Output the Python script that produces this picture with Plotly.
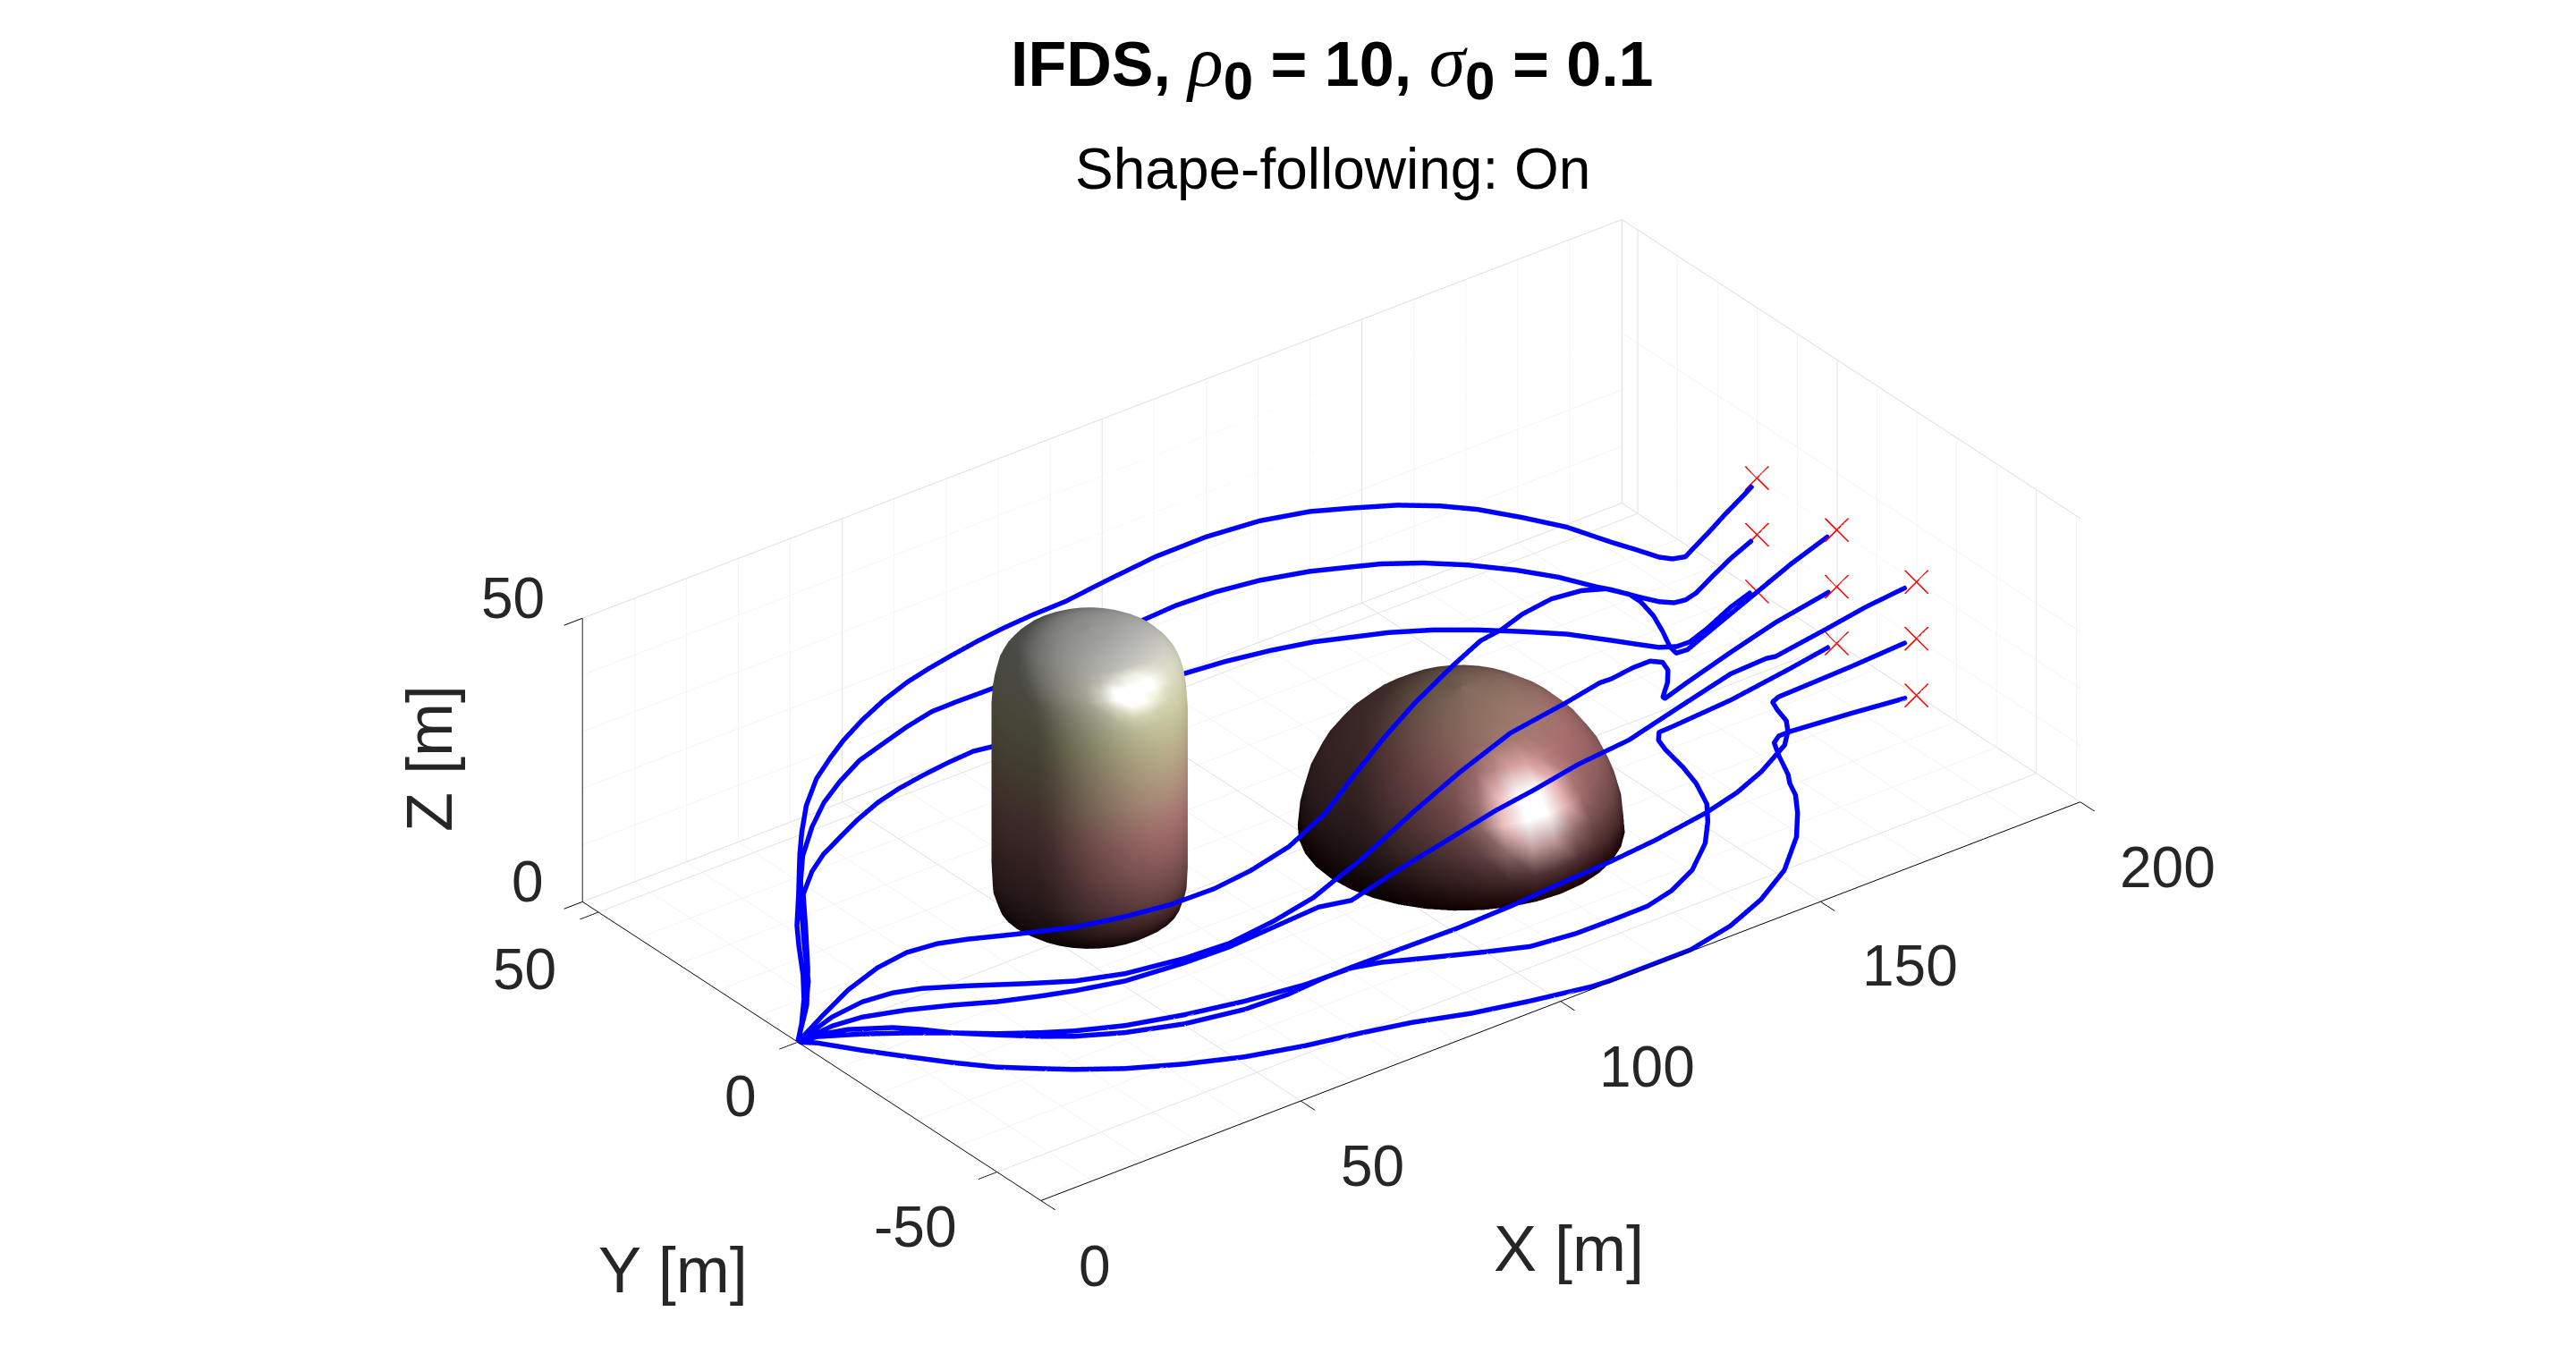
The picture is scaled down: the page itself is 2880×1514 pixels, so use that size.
import numpy as np
import plotly.graph_objects as go

W, H = 2880, 1514

x_ticks = [0, 50, 100, 150, 200]
y_ticks = [-50, 0, 50]
z_ticks = [0, 50]
x_minor = [10, 20, 30, 40, 60, 70, 80, 90, 110, 120, 130, 140, 160, 170, 180, 190]
y_minor = [-60, -40, -30, -20, -10, 10, 20, 30, 40]
z_minor = [10, 20, 30, 40]
x_lim = [0, 200]
y_lim = [-61, 54]
z_lim = [0, 50]

goal_x = [200, 200, 200, 200, 200, 200, 200, 200, 200]
goal_y = [20, 20, 20, 0, 0, 0, -20, -20, -20]
goal_z = [20, 10, 0, 20, 10, 0, 20, 10, 0]

# radius / height profiles of the two obstacles
capsule_center = [60, 5]
capsule_r = [0, 12, 14, 14.8, 15, 15, 15, 15, 15, 15, 14.8, 14.5, 14, 13.4, 12.5, 11.4, 10, 8.2, 6, 3, 0]
capsule_z = [0, 0, 1.5, 4, 8, 14, 20, 26, 31, 36, 39, 41, 43, 44.3, 45.5, 46.6, 47.5, 48.3, 49, 49.4, 49.5]
dome_center = [120, -10]
dome_r = [25, 24.6, 23.5, 21.7, 19.2, 16, 12.5, 8.5, 4.3, 0]
dome_z = [0, 4.3, 8.5, 12.5, 16, 19.2, 21.7, 23.5, 24.6, 25]

# flight paths
p1_x = [0, 2.9, 4.5, 5.7, 7.5, 7.9, 9.6, 10.8, 11.9, 14.2, 17.6, 21.7, 26.2, 30.1, 35.1, 40.3, 45.4, 50, 54.8, 59.7, 64.9, 71, 77.5, 85.3, 95.6, 105.4, 114.9, 122.7, 128.5, 135, 140.5, 145.5, 150.5, 156.2, 162, 166.7, 171.3, 174.7, 177.7, 181.2, 186.1, 190.6, 195.1, 197.8]
p1_y = [0, 2.8, 4.3, 6.1, 9.5, 10.5, 12.3, 13.7, 15, 17.5, 20.8, 23.6, 26, 27.7, 29.5, 30.9, 31.7, 32.3, 32.7, 33, 33.1, 33.6, 33.8, 34.3, 34.9, 35, 33.9, 31.5, 28.4, 25.6, 22.2, 19.2, 14.4, 10.7, 6.9, 7.1, 7.2, 8.3, 9, 11.2, 13.7, 15.7, 17.5, 18.5]
p1_z = [0, 1, 4, 7, 10, 13, 17, 20, 22, 24, 26, 28, 29, 30, 31, 32, 33, 33.5, 34, 34.5, 35, 35, 35, 35.5, 36, 36, 36, 36, 36, 35.5, 35, 34, 33, 31, 28, 25, 22, 20, 19, 18.5, 18.5, 19, 19.5, 20]

p2_x = [0, 5.7, 9.4, 12.4, 16.6, 19.9, 22.5, 27, 30.8, 34.4, 39.8, 45, 49.7, 54.5, 59, 63.2, 65.7, 80.2, 94.2, 100.6, 107.9, 115.4, 123.2, 129.1, 133.2, 139, 144.6, 150.5, 155.9, 160.8, 163.7, 168.8, 172.5, 175.7, 178.7, 181.8, 187, 192.5, 198.2]
p2_y = [0, 5.5, 9.6, 14.5, 20.7, 25.2, 28.1, 31.6, 33.6, 34.4, 36.4, 37, 37.4, 37.4, 36.8, 36, 35.3, 36.7, 36.5, 36.3, 35.9, 34.6, 32.1, 29.3, 27.3, 24.3, 20.3, 16, 12.4, 9.3, 9.2, 9.1, 8.8, 9.2, 10.2, 11.6, 14.2, 16.8, 19.1]
p2_z = [0, 1, 3, 6, 8, 10, 12, 14, 16, 18, 19, 20, 21, 22, 22.5, 23, 23.5, 24, 24.5, 25, 25, 25, 25, 25, 25, 24.5, 24, 23, 21.5, 19.5, 18, 15, 13, 11.5, 10.5, 10, 10, 10, 10]

p3_x = [0, 7.4, 12.6, 18, 22.3, 26.6, 30.1, 34, 38.4, 43.2, 47.7, 52, 56.7, 61.1, 64.1, 81.1, 99.1, 106.6, 114.4, 121.1, 127.1, 132.9, 139.8, 146.3, 152.5, 159, 165.4, 169.7, 174, 177.9, 181.4, 186.5, 193.6, 199]
p3_y = [0, 7.4, 13.9, 21.5, 27.7, 31.1, 32.8, 33.9, 35.2, 36.2, 36.9, 36.5, 35.9, 35.6, 34.2, 32.8, 32.8, 31.9, 30.3, 28.4, 26.7, 25.1, 23, 20.2, 17, 14.3, 11.3, 11, 10.8, 11.4, 12.7, 15, 18.3, 20.4]
p3_z = [0, 0.5, 2, 4, 5.5, 6.5, 7.5, 8.5, 9.5, 10.5, 11, 12, 13, 13.5, 14, 15, 15, 15, 15, 15, 14.5, 14, 13, 12, 11, 9.5, 7.5, 5.5, 3.5, 2, 1, 0.5, 0.3, 0]

p4_x = [0, 7.2, 13.1, 19.8, 25.6, 30.5, 34.4, 39.6, 46.4, 54.5, 61.7, 69.5, 76.7, 84.8, 93.2, 99.1, 104.7, 111.3, 121, 128.3, 132.5, 137.3, 143.1, 148.3, 151.9, 155, 156, 157.6, 158.4, 158.6, 158.7, 160.7, 164.2, 172.1, 180.3, 188.2, 197.7]
p4_y = [0, 2.9, 4.5, 5.8, 6.1, 4.7, 2.3, -2.1, -8.9, -11, -13, -13.9, -13.6, -12.7, -10.8, -10.4, -10.8, -9.6, -6.7, -4, -3.9, -2.8, -2.5, -3.3, -4.7, -6.6, -8.2, -9.2, -10.5, -12, -13.5, -13.7, -12.5, -9.7, -6.7, -3.7, -0.7]
p4_z = [0, 1, 2.5, 3.5, 4, 4.5, 5, 6, 8, 8, 8.5, 9, 9.5, 10.5, 12.5, 17, 22, 25, 27, 27.5, 28, 28.5, 29, 29, 28.7, 27.5, 26.5, 24, 21.5, 19.5, 19, 19, 19.2, 19.5, 19.7, 19.8, 20]

p5_x = [0, 8.3, 13.7, 18.3, 22.1, 27.6, 34.4, 39.6, 47.1, 56.6, 64.3, 72.9, 80.9, 85.5, 91, 101.9, 108.2, 117.4, 126.3, 132.3, 134, 138, 141.9, 144.8, 148.2, 151.1, 154.2, 155.2, 161.6, 173.5, 184.9, 198.1]
p5_y = [0, 2.2, 1.7, 0.1, -2.4, -6.5, -12.6, -17.8, -20.7, -23.2, -24.4, -24.5, -23.9, -23.1, -22.6, -21.9, -25, -25.7, -27.7, -28.7, -29.5, -29.5, -28.8, -28.2, -25.1, -21.2, -16, -15.2, -12.1, -8, -4.3, -0.5]
p5_z = [0, 0.5, 1.5, 2.2, 2.8, 3.2, 4, 5, 5, 5.5, 6, 7, 8, 9, 10.5, 15, 21, 25, 28, 30, 30.5, 31, 30.5, 29, 25, 20, 14, 13, 12, 11.5, 11, 10]

p6_x = [0, 6.9, 11.4, 17.1, 22.7, 28.2, 34.1, 38.9, 46.3, 56.3, 64.1, 72.8, 80.8, 85, 92.8, 100.1, 108.5, 113.8, 120.9, 130.5, 133.4, 143.6, 154.6, 162.3, 164.3, 177.7, 188, 197.6]
p6_y = [0, 0.3, -1.3, -5.1, -9.1, -13.1, -16.5, -18.8, -21.8, -23.6, -24.6, -24.6, -25.3, -28.1, -29.3, -31, -33.5, -36.2, -38.2, -38.4, -37.6, -35.4, -32.5, -31.4, -31.1, -26.4, -22.7, -20.3]
p6_z = [0, 0.3, 1, 2, 2.7, 3.2, 3.7, 4, 4.5, 5, 5.5, 6, 7, 8, 11, 14, 18, 21, 24, 25, 25, 25.5, 25.5, 25, 24.5, 22.5, 21, 20]

p7_x = [0, 3.4, 9.3, 14.9, 20.4, 25.6, 31.2, 35.6, 42.7, 51.9, 61.7, 72, 80.9, 85.5, 91.7, 100.2, 106.5, 114.4, 121.6, 127.7, 132.9, 138.2, 143.7, 147.5, 150.7, 152.7, 154.1, 155.8, 157.2, 159.3, 162.3, 175.6, 189.1, 198.3]
p7_y = [0, -0.5, -4, -7.9, -12.1, -16.4, -20.3, -23, -26.4, -29.3, -31.6, -33.2, -33.5, -34.9, -38, -42.1, -44.9, -46, -46.1, -46.7, -45.9, -44.2, -40.3, -36, -31.6, -26.3, -21.2, -14.5, -11, -8.4, -7.6, -5.2, -2.4, -0.1]
p7_z = [0, 0, 0, 0, 0, 0, 0, 0, 0, 0, 0, 0, 0, 0, 0, 0, 0, 0, 0, 0.5, 1, 2, 3, 3.5, 3.5, 4, 4, 3.5, 3, 2.5, 2, 1, 0.5, 0]

p8_x = [0, 3.7, 8.4, 14.2, 17.4, 20.4, 25.4, 30.5, 34.6, 41.4, 50.2, 60.2, 68.4, 75.3, 81, 92.5, 100.9, 110.5, 119.2, 126.7, 135.2, 144.4, 151.2, 157.5, 162.2, 164.2, 166.6, 167.9, 168.8, 169.7, 171.4, 175.2, 186.3, 197.9]
p8_y = [0, -0.1, -1.6, -5.3, -8.5, -12.1, -16.7, -21.2, -24.3, -28.1, -31.5, -33.6, -34, -33.4, -33.3, -33.5, -33.7, -34.7, -35.9, -37.4, -39, -39.8, -38.5, -36.4, -34.2, -33.5, -31.2, -29.1, -25.7, -23.3, -22.6, -22.2, -21.2, -19.9]
p8_z = [0, 0, 0, 0, 0, 0, 0, 0, 0, 0, 0, 0, 0, 0, 0, 0, 0, 1, 2.5, 4, 6, 8, 8.5, 9, 9.5, 10, 10.5, 11, 11, 11, 11, 10.8, 10.4, 10]

p9_x = [0, 2.2, 6.3, 10.5, 14.9, 19.4, 24.5, 28.4, 34.7, 42.7, 51.4, 60.7, 69.8, 78, 86.9, 96.4, 106.4, 109.7, 116.9, 125.3, 132.9, 140, 146.2, 152.3, 155.8, 159.4, 160.9, 163.4, 166.7, 169.7, 172.6, 175.4, 187.6, 198.2]
p9_y = [0, -2, -8, -13.6, -19.3, -24.5, -29, -32.3, -36.8, -41.2, -45.1, -48, -50.1, -52.3, -55.6, -58.1, -60.3, -60.6, -60.6, -60.6, -60.6, -59.1, -56.9, -52, -47.7, -42.5, -39.1, -35.4, -28.9, -23.7, -21.1, -20.4, -19.6, -19.6]
p9_z = [0, 0, 0, 0, 0, 0, 0, 0, 0, 0, 0, 0, 0, 0, 0, 0, 0, 0, 0, 0, 1.5, 3, 5, 6.5, 7.5, 7, 7, 6, 5, 4, 3, 2.5, 1, 0]

paths = [(p1_x, p1_y, p1_z), (p2_x, p2_y, p2_z), (p3_x, p3_y, p3_z),
         (p4_x, p4_y, p4_z), (p5_x, p5_y, p5_z), (p6_x, p6_y, p6_z),
         (p7_x, p7_y, p7_z), (p8_x, p8_y, p8_z), (p9_x, p9_y, p9_z)]

# matlab pink colormap
pink_t = [0, 0.125, 0.25, 0.375, 0.5, 0.75, 1]
pink_r = [30, 110, 159, 195, 208, 233, 255]
pink_g = [0, 72, 104, 128, 170, 233, 255]
pink_b = [0, 72, 104, 128, 147, 180, 255]

GRID = '#dedede'
DOT = '#ececec'

# camera and light directions of view(-37.5, 30)
VIEW = np.array([-0.527, -0.687, 0.5])
LIGHT = np.array([0.367, -0.803, 0.475])
KA, KD, KS, SHINE = 0.3, 0.6, 1.0, 35


def solid(center, rad, zs, n=37):
    # lit by hand per vertex, like gouraud lighting in matlab
    t = np.linspace(0, 2 * np.pi, n)
    rad = np.array(rad, dtype=float)
    zs = np.array(zs, dtype=float)
    dr = np.gradient(rad)
    dz = np.gradient(zs)
    ln = np.hypot(dr, dz)
    nr, nz = dz / ln, -dr / ln
    sx = center[0] + np.outer(rad, np.cos(t))
    sy = center[1] + np.outer(rad, np.sin(t))
    sz = np.outer(zs, np.ones(n))
    nx = np.outer(nr, np.cos(t))
    ny = np.outer(nr, np.sin(t))
    nnz = np.outer(nz, np.ones(n))
    half = (VIEW + LIGHT) / np.linalg.norm(VIEW + LIGHT)
    diff = np.clip(nx * LIGHT[0] + ny * LIGHT[1] + nnz * LIGHT[2], 0, None)
    spec = np.clip(nx * half[0] + ny * half[1] + nnz * half[2], 0, None) ** SHINE
    cols = []
    for dd, ss, zz in zip(diff.ravel(), spec.ravel(), sz.ravel()):
        tv = zz / 50
        base = [np.interp(tv, pink_t, pink_r), np.interp(tv, pink_t, pink_g), np.interp(tv, pink_t, pink_b)]
        c = [min(255, b * (KA + KD * dd) + 255 * KS * ss) for b in base]
        cols.append('rgb(%d,%d,%d)' % tuple(c))
    nrow = len(rad)
    ii, jj, kk = [], [], []
    for a in range(nrow - 1):
        for b in range(n - 1):
            p = a * n + b
            ii += [p, p + 1]
            jj += [p + 1, p + n + 1]
            kk += [p + n, p + n]
    return go.Mesh3d(x=sx.ravel(), y=sy.ravel(), z=sz.ravel(), i=ii, j=jj, k=kk, vertexcolor=cols,
                     hoverinfo='skip', flatshading=False,
                     lighting=dict(ambient=1, diffuse=0, specular=0, roughness=1, fresnel=0))


def segs(pairs):
    xs, ys, zs = [], [], []
    for a, b in pairs:
        xs += [a[0], b[0], None]
        ys += [a[1], b[1], None]
        zs += [a[2], b[2], None]
    return xs, ys, zs


def shifted(xs, ys, zs, offs):
    # webgl lines stay 1px wide, so stack copies shifted a little on screen
    ox, oy, oz = [], [], []
    for hor, ver in offs:
        dx = 0.1086 * hor - (0.1665 * -ver if ver < 0 else 0)
        dy = -0.0829 * hor - (0.2167 * -ver if ver < 0 else 0)
        dz = 0.157 * ver if ver > 0 else 0
        for a, b, c in zip(xs, ys, zs):
            ox.append(None if a is None else a + dx)
            oy.append(None if b is None else b + dy)
            oz.append(None if c is None else c + dz)
        ox.append(None)
        oy.append(None)
        oz.append(None)
    return ox, oy, oz


y0, y1 = y_lim
z1 = z_lim[1]
x1 = x_lim[1]

# minor grid on the floor and the two back walls
minor = []
for v in x_minor:
    minor += [((v, y0, 0), (v, y1, 0)), ((v, y1, 0), (v, y1, z1))]
for v in y_minor:
    minor += [((0, v, 0), (x1, v, 0)), ((x1, v, 0), (x1, v, z1))]
for v in z_minor:
    minor += [((0, y1, v), (x1, y1, v)), ((x1, y1, v), (x1, y0, v))]

# box edges that are not on a tick
edges = [((0, y1, 0), (x1, y1, 0)), ((x1, y1, 0), (x1, y0, 0)),
         ((0, y1, z1), (x1, y1, z1)), ((x1, y1, z1), (x1, y0, z1))]

# red crosses, arms kept inside the box so they are not clipped at x=200 / z=0
arms = [((0, -2.91, 3.38), (-3.58, -1.74, 0)), ((0, 2.91, 0.71), (-0.75, -3.9, 0))]
goal_marks = []
for gx, gy, gz in zip(goal_x, goal_y, goal_z):
    for a, b in arms:
        goal_marks.append(((gx + a[0], gy + a[1], gz + a[2]), (gx, gy, gz)))
        goal_marks.append(((gx, gy, gz), (gx + b[0], gy + b[1], gz + b[2])))

fig = go.Figure()
mx, my, mz = segs(minor)
fig.add_trace(go.Scatter3d(x=mx, y=my, z=mz, mode='lines', line=dict(color=DOT, width=1), hoverinfo='skip'))
ex, ey, ez = segs(edges)
fig.add_trace(go.Scatter3d(x=ex, y=ey, z=ez, mode='lines', line=dict(color=GRID, width=2), hoverinfo='skip'))
fig.add_trace(solid(capsule_center, capsule_r, capsule_z))
fig.add_trace(solid(dome_center, dome_r, dome_z))
blue_offs = [(0, 0), (1.5, 0), (-1.5, 0), (0, 1.5), (0, -1.5), (1, 1), (1, -1), (-1, 1), (-1, -1)]
for px_, py_, pz_ in paths:
    bx, by, bz = shifted(px_, py_, pz_, blue_offs)
    fig.add_trace(go.Scatter3d(x=bx, y=by, z=bz, mode='lines', line=dict(color='rgb(0,0,255)', width=5), hoverinfo='skip'))
gx_, gy_, gz_ = segs(goal_marks)
rx, ry, rz = shifted(gx_, gy_, gz_, [(0, 0), (-0.8, 0)])
fig.add_trace(go.Scatter3d(x=rx, y=ry, z=rz, mode='lines', line=dict(color='red', width=2), hoverinfo='skip'))


def axis(lim, ticks):
    return dict(range=lim, tickvals=ticks, showticklabels=False, title=dict(text=''),
                showgrid=True, gridcolor=GRID, gridwidth=2, zeroline=False,
                showline=True, linecolor='black', linewidth=2,
                ticks='outside', ticklen=26, tickcolor='black', tickwidth=2,
                showbackground=False, showspikes=False)


zoom = 1.0213
fig.update_layout(
    width=W, height=H, margin=dict(l=0, r=0, t=0, b=0), showlegend=False,
    paper_bgcolor='white',
    scene=dict(
        domain=dict(x=[0.0309, 0.9972], y=[0.0073, 0.9543]),
        xaxis=axis(x_lim, x_ticks), yaxis=axis(y_lim, y_ticks), zaxis=axis(z_lim, z_ticks),
        aspectmode='manual', aspectratio=dict(x=2 * zoom, y=1.15 * zoom, z=0.5 * zoom),
        camera=dict(projection=dict(type='orthographic'), up=dict(x=0, y=0, z=1),
                    center=dict(x=0, y=0, z=0),
                    eye=dict(x=-0.527 * 2, y=-0.687 * 2, z=0.5 * 2)),
    ),
)


def label(text, px, py, size=64, color='#262626', angle=0):
    fig.add_annotation(text=text, x=px / W, y=1 - py / H, xref='paper', yref='paper',
                       xanchor='center', yanchor='middle', showarrow=False, textangle=angle,
                       font=dict(family='Liberation Sans, Arial', size=size, color=color))


greek = '<span style="font-family:Liberation Serif;font-weight:normal;font-style:italic;font-size:82px">%s</span>'
sub0 = '<sub><span style="font-size:60px">0</span></sub>'
label('<b>IFDS, ' + greek % 'ρ' + sub0 + ' = 10, ' + greek % 'σ' + sub0 + ' = 0.1</b>', 1481, 65, size=70, color='black')
label('Shape-following: On', 1482, 181, size=64, color='black')
for t, px, py in zip(x_ticks, [1216, 1526, 1834, 2127, 2415], [1408, 1296, 1185, 1072, 962]):
    label(str(t), px, py)
for t, px, py in zip(y_ticks, [1015, 820, 578], [1364, 1218, 1076]):
    label(str(t), px, py)
for t, px, py in zip(z_ticks, [582, 565], [978, 661]):
    label(str(t), px, py)
label('X [m]', 1746, 1388, size=72)
label('Y [m]', 744, 1412, size=72)
label('Z [m]', 472, 840, size=72, angle=-90)

fig.write_html("out.html")
